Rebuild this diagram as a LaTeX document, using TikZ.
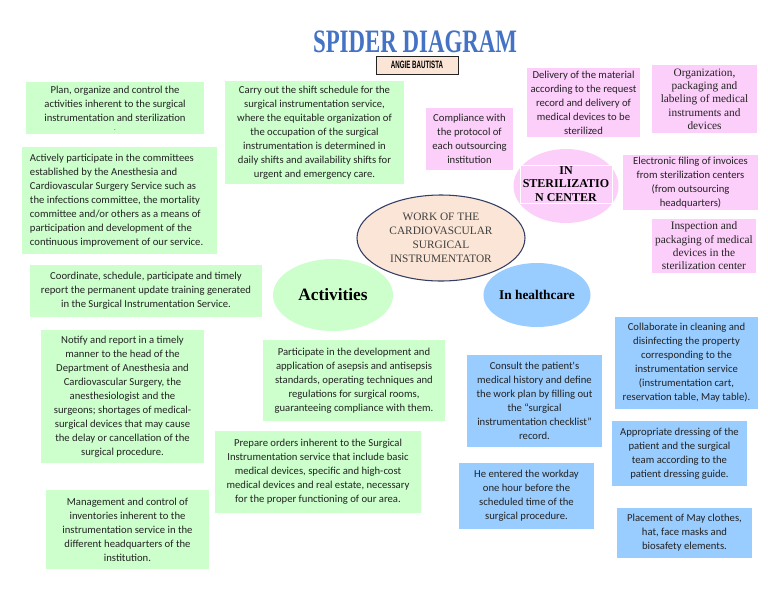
\documentclass[tikz,border=0pt]{standalone}
\usepackage{fontspec}
\setmainfont{Liberation Serif}
\newfontfamily\calfont{Carlito}
\newfontfamily\serfont{Liberation Serif}
\newfontfamily\sanfont{Liberation Sans}
\usetikzlibrary{shapes.geometric}
\definecolor{gfill}{RGB}{204,255,204}
\definecolor{pfill}{RGB}{252,206,250}
\definecolor{bfill}{RGB}{153,204,255}
\definecolor{peach}{RGB}{251,229,214}
\definecolor{navy}{RGB}{50,62,100}
\definecolor{titleblue}{RGB}{68,114,196}
\definecolor{txt}{RGB}{35,35,35}
\tikzset{
  basebox/.style={rectangle, inner sep=0pt, align=center, text=txt,
    font=\calfont\fontsize{8}{10.5}\selectfont},
  gbox/.style={basebox, fill=gfill},
  pbox/.style={basebox, fill=pfill},
  pserif/.style={basebox, fill=pfill, font=\serfont\fontsize{8.5}{10}\selectfont},
  bbox/.style={basebox, fill=bfill},
  oval/.style={ellipse, inner sep=0pt, align=center}
}
\begin{document}
\begin{tikzpicture}[x=0.75pt,y=-0.75pt]
\useasboundingbox (0,0) rectangle (768,594);
\fill[white] (0,0) rectangle (768,594);

% title
\node[text=titleblue, font=\serfont\bfseries\fontsize{17.5}{17.5}\selectfont] (title) at (415,42) {\scalebox{0.98}[1.4]{SPIDER DIAGRAM}};
\node[draw=txt, line width=0.75pt, fill=peach, minimum width=61.5pt, minimum height=13.5pt, inner sep=0pt, font=\sanfont\bfseries\fontsize{8}{8}\selectfont] (name) at (417,65) {\scalebox{0.58}[1]{ANGIE BAUTISTA}};

% green boxes
\node[gbox, minimum width=133.5pt, minimum height=39pt] (g1) at (115,108)
  {Plan, organize and control the\\activities inherent to the surgical\\instrumentation and sterilization\\[-4pt]{\fontsize{5}{5}\selectfont .}};
\node[gbox, minimum width=146.25pt, minimum height=80.25pt, text width=134.25pt, align=flush left] (g2) at (119.5,200.5)
  {Actively participate in the committees\\established by the Anesthesia and\\Cardiovascular Surgery Service such as\\the infections committee, the mortality\\committee and/or others as a means of\\participation and development of the\\continuous improvement of our service.};
\node[gbox, minimum width=134.25pt, minimum height=77.25pt] (g3) at (314.5,132.5)
  {Carry out the shift schedule for the\\surgical instrumentation service,\\where the equitable organization of\\the occupation of the surgical\\instrumentation is determined in\\daily shifts and availability shifts for\\urgent and emergency care.};
\node[gbox, minimum width=174pt, minimum height=39pt] (g4) at (146,291)
  {Coordinate, schedule, participate and timely\\report the permanent update training generated\\in the Surgical Instrumentation Service.};
\node[gbox, minimum width=122.25pt, minimum height=99.75pt] (g5) at (122.5,396.5)
  {Notify and report in a timely\\manner to the head of the\\Department of Anesthesia and\\Cardiovascular Surgery, the\\anesthesiologist and the\\surgeons; shortages of medical-\\surgical devices that may cause\\the delay or cancellation of the\\surgical procedure.};
\node[gbox, minimum width=136.5pt, minimum height=60.75pt] (g6) at (354,380.5)
  {Participate in the development and\\application of asepsis and antisepsis\\standards, operating techniques and\\regulations for surgical rooms,\\guaranteeing compliance with them.};
\node[gbox, minimum width=154.5pt, minimum height=61.5pt] (g7) at (318,472)
  {Prepare orders inherent to the Surgical\\Instrumentation service that include basic\\medical devices, specific and high-cost\\medical devices and real estate, necessary\\for the proper functioning of our area.};
\node[gbox, minimum width=122.25pt, minimum height=59.25pt] (g8) at (127.5,529.5)
  {Management and control of\\inventories inherent to the\\instrumentation service in the\\different headquarters of the\\institution.};

% pink boxes
\node[pbox, minimum width=65.25pt, minimum height=46.5pt] (p1) at (469.5,139)
  {Compliance with\\the protocol of\\each outsourcing\\institution};
\node[pbox, minimum width=84.75pt, minimum height=51.75pt] (p2) at (583.5,102.5)
  {Delivery of the material\\according to the request\\record and delivery of\\medical devices to be\\sterilized};
\node[pserif, minimum width=78.75pt, minimum height=51pt] (p3) at (704.5,99)
  {Organization,\\packaging and\\labeling of medical\\instruments and\\devices};
\node[pbox, minimum width=101.25pt, minimum height=41.25pt] (p4) at (690.5,182.5)
  {Electronic filing of invoices\\from sterilization centers\\(from outsourcing\\headquarters)};
\node[pserif, minimum width=78pt, minimum height=40.5pt] (p5) at (704,246)
  {Inspection and\\packaging of medical\\devices in the\\sterilization center};

% sterilization center
\node[oval, fill=pfill, minimum width=78.75pt, minimum height=55.5pt] (steril) at (566,186) {};
\node[rectangle, fill=pfill, draw=white, line width=0.4pt, inner sep=0pt, minimum width=69pt, minimum height=28.5pt, align=center, font=\serfont\bfseries\fontsize{9}{10}\selectfont] (sterilt) at (566,184)
  {IN\\STERILIZATIO\\N CENTER};

% central ellipses
\node[oval, fill=peach, draw=navy, line width=0.8pt, minimum width=126pt, minimum height=64.5pt, text=black!75, font=\serfont\fontsize{8.5}{10.5}\selectfont] (work) at (441,238)
  {WORK OF THE\\CARDIOVASCULAR\\SURGICAL\\INSTRUMENTATOR};
\node[oval, fill=gfill, minimum width=90pt, minimum height=54pt, font=\serfont\bfseries\fontsize{13}{13}\selectfont] (act) at (333,295) {Activities};
\node[oval, fill=bfill, minimum width=79.5pt, minimum height=48pt, font=\serfont\bfseries\fontsize{10}{10}\selectfont] (health) at (537,295) {In healthcare};

% blue boxes
\node[bbox, minimum width=101.25pt, minimum height=69pt] (b1) at (534.5,401)
  {Consult the patient's\\medical history and define\\the work plan by filling out\\the “surgical\\instrumentation checklist”\\record.};
\node[bbox, minimum width=107.25pt, minimum height=69pt] (b2) at (686.5,363)
  {Collaborate in cleaning and\\disinfecting the property\\corresponding to the\\instrumentation service\\(instrumentation cart,\\reservation table, May table).};
\node[bbox, minimum width=101.25pt, minimum height=48.75pt] (b3) at (679.5,453.5)
  {Appropriate dressing of the\\patient and the surgical\\team according to the\\patient dressing guide.};
\node[bbox, minimum width=101.25pt, minimum height=49.5pt] (b4) at (526.5,496)
  {He entered the workday\\one hour before the\\scheduled time of the\\surgical procedure.};
\node[bbox, minimum width=101.25pt, minimum height=37.5pt] (b5) at (684.5,533)
  {Placement of May clothes,\\hat, face masks and\\biosafety elements.};
\end{tikzpicture}
\end{document}
